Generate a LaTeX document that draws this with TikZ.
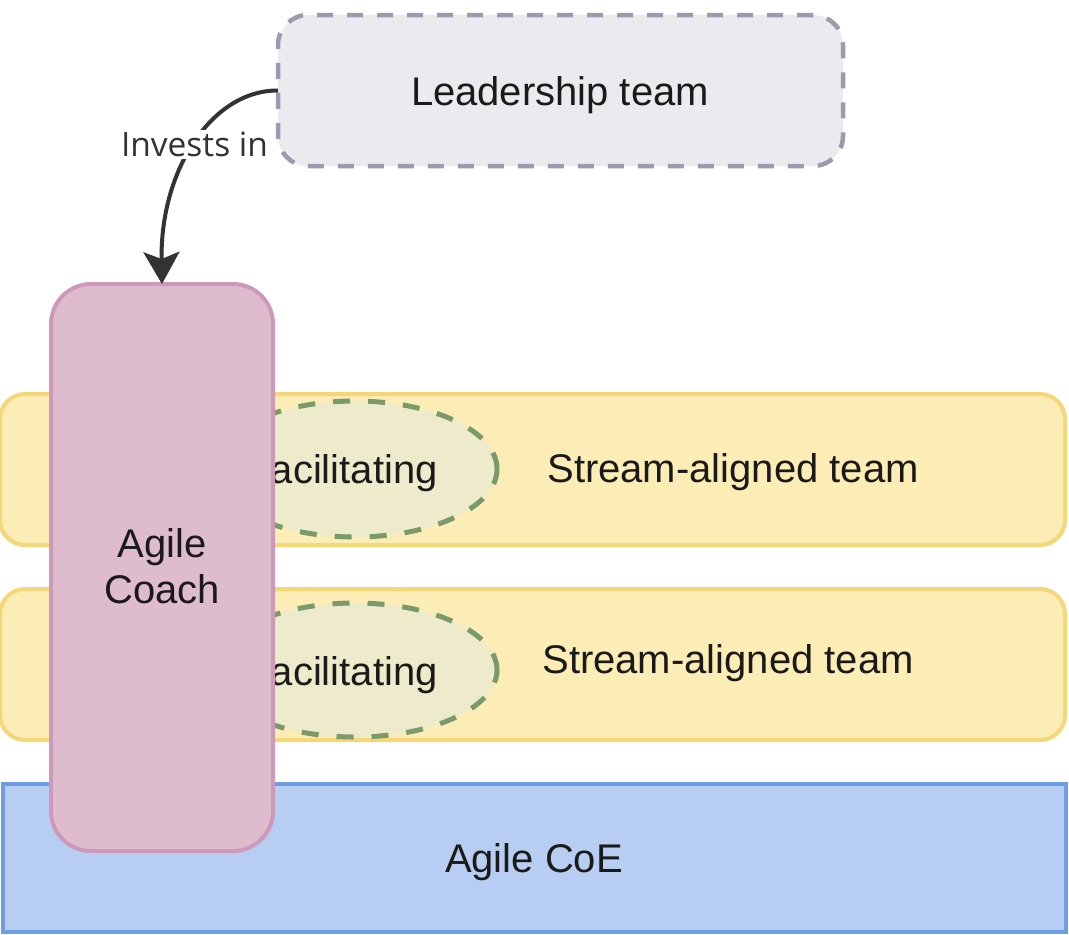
\documentclass[tikz,border=0pt]{standalone}
\usepackage{fontspec}
\setmainfont{Liberation Sans}
\newfontfamily\labelfont{Open Sans}
\usetikzlibrary{shapes.geometric,arrows.meta}
\definecolor{leadfill}{HTML}{EBEBEF}
\definecolor{leadline}{HTML}{9C9AAE}
\definecolor{coachfill}{HTML}{DFBCCD}
\definecolor{coachline}{HTML}{CC99B8}
\definecolor{streamfill}{HTML}{FCEDB6}
\definecolor{streamline}{HTML}{F5D77A}
\definecolor{facfill}{HTML}{EDEBCB}
\definecolor{facline}{HTML}{7B9A6A}
\definecolor{coefill}{HTML}{B8CDF2}
\definecolor{coeline}{HTML}{6D9EE3}
\definecolor{textcol}{HTML}{1A1A1A}
\definecolor{arrowcol}{HTML}{333333}
\tikzset{
  box/.style={draw, line width=2pt, inner sep=0pt, outer sep=0pt},
  txt/.style={font=\fontsize{20pt}{23pt}\selectfont, text=textcol, anchor=base, inner sep=0pt, align=center},
  streambox/.style={box, fill=streamfill, draw=streamline, rounded corners=12.5pt, minimum width=532.5pt, minimum height=75.5pt},
  facbox/.style={ellipse, box, line width=2.5pt, fill=facfill, draw=facline, dash pattern=on 8.5pt off 9pt, minimum width=142pt},
}
\begin{document}
\begin{tikzpicture}[x=0.5pt,y=-0.5pt]
\useasboundingbox (0,0) rectangle (1069,934);
% stream-aligned teams
\node[streambox] (s1) at (532.5,469.5) {};
\node[streambox] (s2) at (532.5,664.5) {};
% facilitating ellipses
\node[facbox, minimum height=68pt] (f1) at (355,469) {};
\node[facbox, minimum height=67pt] (f2) at (355,670) {};
\node[txt] (f1t) at (342,483) {Facilitating};
\node[txt] (f2t) at (342,685) {Facilitating};
\node[txt] (s1t) at (733,482) {Stream-aligned team};
\node[txt] (s2t) at (728,673) {Stream-aligned team};
% CoE
\node[box, fill=coefill, draw=coeline, minimum width=531.5pt, minimum height=74pt] (coe) at (534.5,858) {};
\node[txt] (coet) at (534,872) {Agile CoE};
% coach
\node[box, fill=coachfill, draw=coachline, rounded corners=20pt, minimum width=111pt, minimum height=283.5pt] (coach) at (162,567.5) {};
\node[txt] (coacht) at (162,603) {Agile\\Coach};
% leadership
\node[box, line width=2.25pt, fill=leadfill, draw=leadline, dash pattern=on 8pt off 7pt, rounded corners=15pt, minimum width=282.5pt, minimum height=75.5pt] (lead) at (560.5,90.5) {};
\node[txt] (leadt) at (560,105) {Leadership team};
% arrow
\draw[draw=arrowcol, line width=2pt, -{Stealth[length=16pt, width=18pt, inset=3.5pt]}]
  (lead.west) .. controls (212,90) and (160,170) .. (coach.north)
  node[pos=0.5, fill=white, text=arrowcol, inner sep=1pt, font=\labelfont\fontsize{16.75pt}{18pt}\selectfont] (inv) {Invests in};
\end{tikzpicture}
\end{document}
